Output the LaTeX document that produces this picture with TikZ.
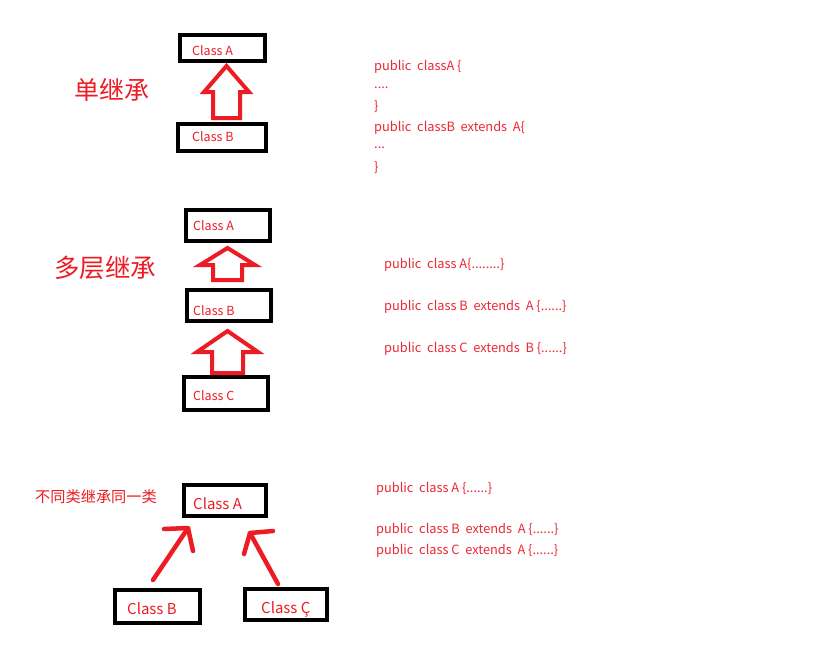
\documentclass[tikz,border=0pt]{standalone}
\usepackage{fontspec}
\setmainfont{Noto Sans CJK SC}
\definecolor{pred}{RGB}{237,28,36}
\definecolor{ctext}{RGB}{236,40,52}
\begin{document}
\begin{tikzpicture}[x=1pt,y=-1pt,
  box/.style={draw=black,line width=4pt,rectangle,inner sep=0pt},
  lbl/.style={text=pred,font=\fontsize{12.5}{14}\selectfont,anchor=west,inner sep=0pt},
  lblbig/.style={text=pred,font=\fontsize{15}{17}\selectfont,anchor=west,inner sep=0pt},
  code/.style={text=ctext,font=\fontsize{12.8}{14}\selectfont,anchor=west,inner sep=0pt,yshift=-1.5pt},
  title/.style={text=pred,anchor=west,inner sep=0pt},
  blk/.style={draw=pred,line width=4pt,line join=miter},
  hand/.style={draw=pred,line width=4.5pt,line cap=round,line join=round}]
\useasboundingbox[fill=white] (0,0) rectangle (835,649);

% ---------- section 1 ----------
\node[box,minimum width=85,minimum height=26] (s1a) at (222.5,48) {};
\node[box,minimum width=88,minimum height=27] (s1b) at (222,137.5) {};
\node[lbl] (s1at) at (192,51) {Class A};
\node[lbl] (s1bt) at (192,137) {Class B};
\draw[blk] (226.5,66) -- (249,92) -- (240,92) -- (240,118) -- (213,118) -- (213,92) -- (204,92) -- cycle;
\node[title,font=\fontsize{25}{28}\selectfont] (t1) at (74,90) {单继承};

\node[code] (c11) at (374,65) {public\ \ classA \{};
\node[code] (c12) at (374,86) {....};
\node[code] (c13) at (374,105) {\}};
\node[code] (c14) at (374,126) {public\ \ classB\ \ extends\ \ A\{};
\node[code] (c15) at (374,146) {...};
\node[code] (c16) at (374,166) {\}};

% ---------- section 2 ----------
\node[box,minimum width=84,minimum height=31] (s2a) at (228,225.5) {};
\node[box,minimum width=84,minimum height=31] (s2b) at (229,305.5) {};
\node[box,minimum width=84,minimum height=33] (s2c) at (226,393.5) {};
\node[lbl] (s2at) at (193,226) {Class A};
\node[lbl] (s2bt) at (193,311) {Class B};
\node[lbl] (s2ct) at (193,396) {Class C};
\draw[blk] (227.5,248) -- (255,265) -- (242,265) -- (242,280) -- (213,280) -- (213,265) -- (200,265) -- cycle;
\draw[blk] (227.5,331) -- (258,352) -- (243,352) -- (243,373) -- (212,373) -- (212,352) -- (197,352) -- cycle;
\node[title,font=\fontsize{25.5}{28}\selectfont] (t2) at (54,268) {多层继承};

\node[code] (c21) at (384,263) {public\ \ class A\{........\}};
\node[code] (c22) at (384,305) {public\ \ class B\ \ extends\ \ A \{......\}};
\node[code] (c23) at (384,347) {public\ \ class C\ \ extends\ \ B \{......\}};

% ---------- section 3 ----------
\node[box,minimum width=82,minimum height=31] (s3a) at (225,500.5) {};
\node[box,minimum width=85,minimum height=33] (s3b) at (157.5,606.5) {};
\node[box,minimum width=82,minimum height=31] (s3c) at (286,604.5) {};
\node[lblbig] (s3at) at (193,504) {Class A};
\node[lblbig] (s3bt) at (127,609) {Class B};
\node[lblbig] (s3ct) at (261,609) {Class Ç};
\node[title,font=\fontsize{15.2}{17}\selectfont] (t3) at (35,497) {不同类继承同一类};

\coordinate (bt) at (153,580);
\coordinate (bh) at (188,528);
\draw[hand] (bt) -- (bh);
\draw[hand] (164,529) -- (bh) -- (193,551);
\coordinate (ct) at (278,584);
\coordinate (ch) at (250,533);
\draw[hand] (ct) -- (ch);
\draw[hand] (273,531) -- (ch) -- (244,554);

\node[code] (c31) at (376,487) {public\ \ class A \{......\}};
\node[code] (c32) at (376,528) {public\ \ class B\ \ extends\ \ A \{......\}};
\node[code] (c33) at (376,549) {public\ \ class C\ \ extends\ \ A \{......\}};
\end{tikzpicture}
\end{document}
